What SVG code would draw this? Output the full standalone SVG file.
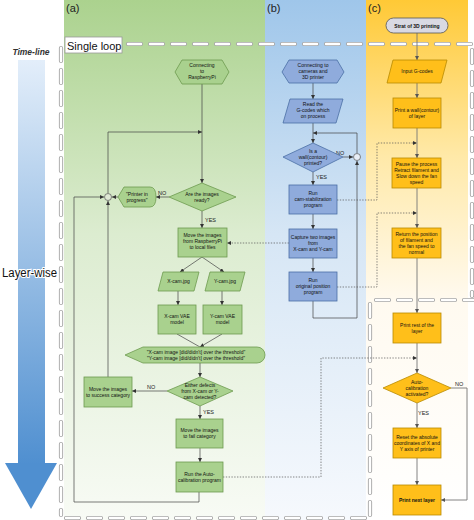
<svg xmlns="http://www.w3.org/2000/svg" width="474" height="520" viewBox="0 0 474 520">
<defs>
<linearGradient id="gA" x1="0" y1="0" x2="0" y2="1"><stop offset="0" stop-color="#abd28e"/><stop offset="0.45" stop-color="#dcecd0"/><stop offset="1" stop-color="#f8fbf5"/></linearGradient>
<linearGradient id="gB" x1="0" y1="0" x2="0" y2="1"><stop offset="0" stop-color="#9fc6ea"/><stop offset="0.45" stop-color="#d6e6f5"/><stop offset="1" stop-color="#f6f9fd"/></linearGradient>
<linearGradient id="gC" x1="0" y1="0" x2="0" y2="1"><stop offset="0" stop-color="#ffc936"/><stop offset="0.3" stop-color="#ffe9a8"/><stop offset="0.58" stop-color="#fffaf0"/><stop offset="1" stop-color="#ffffff"/></linearGradient>
<linearGradient id="gT" x1="0" y1="0" x2="0" y2="1"><stop offset="0" stop-color="#e3eefa"/><stop offset="1" stop-color="#4f8fd0"/></linearGradient>
<marker id="ar" viewBox="0 0 6 6" refX="6" refY="3" markerWidth="4" markerHeight="4" markerUnits="userSpaceOnUse" orient="auto"><path d="M0,0 L6,3 L0,6 Z" fill="#333"/></marker>
<marker id="arg" viewBox="0 0 6 6" refX="6" refY="3" markerWidth="4" markerHeight="4" markerUnits="userSpaceOnUse" orient="auto"><path d="M0,0 L6,3 L0,6 Z" fill="#555"/></marker>
</defs>
<style>
.t{font-family:"Liberation Sans",Arial,sans-serif;font-size:5px;fill:#111;text-anchor:middle}
.g{fill:#a9d18e;stroke:#6d9a4f;stroke-width:0.8}
.b{fill:#8fabdc;stroke:#4a6ea5;stroke-width:0.8}
.o{fill:#ffbf1a;stroke:#b88a00;stroke-width:0.8}
.c{fill:none;stroke:#444;stroke-width:0.7;marker-end:url(#ar)}
.cn{fill:none;stroke:#444;stroke-width:0.7}
.cg{fill:none;stroke:#777;stroke-width:0.9;marker-end:url(#arg)}
.d{fill:none;stroke:#555;stroke-width:0.7;stroke-dasharray:1.4 1.4;marker-end:url(#ar)}
.dashO{fill:none;stroke:#a6a6a6;stroke-width:4.2;stroke-dasharray:13 9;stroke-linecap:round}
.dashI{fill:none;stroke:#fff;stroke-width:2.4;stroke-dasharray:13 9;stroke-linecap:round}
.lbl{font-family:"Liberation Sans",Arial,sans-serif;font-size:5.5px;fill:#222}
.hd{font-family:"Liberation Sans",Arial,sans-serif;font-size:11px;fill:#222}
</style>
<rect x="0" y="0" width="474" height="520" fill="#fff"/>
<rect x="64" y="0" width="201" height="520" fill="url(#gA)"/>
<rect x="265" y="0" width="101" height="520" fill="url(#gB)"/>
<rect x="366" y="0" width="102" height="520" fill="url(#gC)"/>
<text class="hd" x="66" y="12">(a)</text>
<text class="hd" x="267" y="12">(b)</text>
<text class="hd" x="368" y="12">(c)</text>

<g id="timeline">
<rect x="18" y="60" width="27" height="405" fill="url(#gT)"/>
<path d="M5,463 L57,463 L31,509 Z" fill="#4f8fd0"/>
<text x="31" y="55" font-family="Liberation Sans,Arial,sans-serif" font-size="8.5" font-weight="bold" font-style="italic" text-anchor="middle" fill="#333" stroke="#fff" stroke-width="1.6" paint-order="stroke">Time-line</text>
<text x="2" y="277" textLength="55" lengthAdjust="spacingAndGlyphs" font-family="Liberation Sans,Arial,sans-serif" font-size="12" fill="#111" stroke="#fff" stroke-width="2.2" paint-order="stroke">Layer-wise</text>
</g>

<g id="loop">
<path class="dashO" d="M128,44 H474 M61,48 V515 M66,518 H366 M370,304 V520 M376,300 H474 M472,50 V296"/>
<path class="dashI" d="M128,44 H474 M61,48 V515 M66,518 H366 M370,304 V520 M376,300 H474 M472,50 V296"/>
<rect x="65" y="37" width="57" height="16" fill="#fff" stroke="#999" stroke-width="0.8"/>
<text x="67" y="49.5" font-family="Liberation Sans,Arial,sans-serif" font-size="11" fill="#111">Single loop</text>
</g>

<g id="connectors">
<path class="c" d="M202,84 V183"/>
<path class="c" d="M108,193 V132 H202"/>
<path class="c" d="M169,197 H156"/>
<path class="c" d="M118,197 H112"/>
<path class="c" d="M199,492 V502 H74 V197 H104"/>
<path class="c" d="M108,377 V201"/>
<path class="c" d="M202,211 V228"/>
<path class="c" d="M202,257 L180,272"/>
<path class="c" d="M202,257 L224,272"/>
<path class="c" d="M178,291 V305"/>
<path class="c" d="M222,291 V305"/>
<path class="cn" d="M177,334 L200,347"/>
<path class="c" d="M222,334 L200,347"/>
<path class="c" d="M200,363 V377"/>
<path class="c" d="M167,391 H132"/>
<path class="c" d="M200,406 V419"/>
<path class="c" d="M200,448 V462"/>
<path class="d" d="M289,243 H227"/>
<path class="d" d="M223,477 H321 V358 H417"/>
<path class="c" d="M313,83 V99"/>
<path class="c" d="M313,123 V143"/>
<path class="c" d="M343,157 H353"/>
<path class="c" d="M357,153 V133 H313"/>
<path class="c" d="M313,301 V318 H357 V161"/>
<path class="c" d="M313,172 V185"/>
<path class="c" d="M313,214 V229"/>
<path class="c" d="M313,258 V272"/>
<path class="d" d="M337,200 H377 V143 H417"/>
<path class="d" d="M337,287 H377 V213 H417"/>
<path class="cg" d="M417,33 V60"/>
<path class="cg" d="M417,83 V98"/>
<path class="cg" d="M417,128 V158"/>
<path class="cg" d="M417,188 V228"/>
<path class="cg" d="M417,258 V313"/>
<path class="cg" d="M417,343 V373"/>
<path class="cg" d="M417,403 V428"/>
<path class="cg" d="M417,458 V485"/>
<path class="cg" d="M451,388 H467 V500 H441"/>
<text class="lbl" x="158" y="195">NO</text>
<text class="lbl" x="205" y="222">YES</text>
<text class="lbl" x="147" y="389">NO</text>
<text class="lbl" x="203" y="414">YES</text>
<text class="lbl" x="336" y="155">NO</text>
<text class="lbl" x="316" y="179">YES</text>
<text class="lbl" x="455" y="386">NO</text>
<text class="lbl" x="418" y="415">YES</text>
</g>

<g id="a-connect"><path class="g" d="M175,72 L182,60 H222 L229,72 L222,84 H182 Z"/><text class="t" x="202" y="67">Connecting</text><text class="t" x="202" y="73">to</text><text class="t" x="202" y="79">RaspberryPi</text></g>
<g id="a-ready"><path class="g" d="M169,197 L202,183 L236,197 L202,211 Z"/><text class="t" x="202" y="196">Are the images</text><text class="t" x="202" y="202">ready?</text></g>
<g id="a-printer"><path class="g" d="M118,197 L124,187 H150 Q156,187 156,197 Q156,207 150,207 H124 Z"/><text class="t" x="137" y="196">"Printer in</text><text class="t" x="137" y="202">progress"</text></g>
<g id="a-junction"><circle cx="108" cy="197" r="3.5" fill="#dfe8d5" stroke="#555" stroke-width="0.7"/></g>
<g id="a-move"><rect class="g" x="178" y="228" width="49" height="29"/><text class="t" x="202.5" y="237">Move the images</text><text class="t" x="202.5" y="243">from RaspberryPi</text><text class="t" x="202.5" y="249">to local files</text></g>
<g id="a-xjpg"><path class="g" d="M163,272 H199 L194,291 H158 Z"/><text class="t" x="178.5" y="283">X-cam.jpg</text></g>
<g id="a-yjpg"><path class="g" d="M210,272 H245 L240,291 H205 Z"/><text class="t" x="225" y="283">Y-cam.jpg</text></g>
<g id="a-xvae"><rect class="g" x="158" y="305" width="38" height="29"/><text class="t" x="177" y="318">X-cam VAE</text><text class="t" x="177" y="324">model</text></g>
<g id="a-yvae"><rect class="g" x="203" y="305" width="39" height="29"/><text class="t" x="222.5" y="318">Y-cam VAE</text><text class="t" x="222.5" y="324">model</text></g>
<g id="a-threshold"><path class="g" d="M125,355 L143,347 H257 A8,8 0 0 1 257,363 H143 Z"/><text class="t" x="196" y="354">"X-cam image [did/didn't] over the threshold"</text><text class="t" x="196" y="360">"Y-cam image [did/didn't] over the threshold"</text></g>
<g id="a-defects"><path class="g" d="M167,391 L200,377 L233,391 L200,406 Z"/><text class="t" x="200" y="387">Either defects</text><text class="t" x="200" y="393">from X-cam or Y-</text><text class="t" x="200" y="399">cam detected?</text></g>
<g id="a-success"><rect class="g" x="84" y="377" width="48" height="30"/><text class="t" x="108" y="391">Move the images</text><text class="t" x="108" y="397">to success category</text></g>
<g id="a-fail"><rect class="g" x="176" y="419" width="47" height="29"/><text class="t" x="199.5" y="432">Move the images</text><text class="t" x="199.5" y="438">to fail category</text></g>
<g id="a-autocal"><rect class="g" x="176" y="462" width="47" height="30"/><text class="t" x="199.5" y="476">Run the Auto-</text><text class="t" x="199.5" y="482">calibration program</text></g>

<g id="b-connect"><path class="b" d="M282,72 L289,60 H337 L344,72 L337,83 H289 Z"/><text class="t" x="313" y="67">Connecting to</text><text class="t" x="313" y="73">cameras and</text><text class="t" x="313" y="79">3D printer</text></g>
<g id="b-read"><path class="b" d="M290,99 H343 L336,123 H283 Z"/><text class="t" x="313" y="106">Read the</text><text class="t" x="313" y="112">G-codes which</text><text class="t" x="313" y="118">on process</text></g>
<g id="b-wall"><path class="b" d="M283,157 L313,143 L343,157 L313,172 Z"/><text class="t" x="313" y="153">Is a</text><text class="t" x="313" y="159">wall(contour)</text><text class="t" x="313" y="165">printed?</text></g>
<g id="b-junction"><circle cx="357" cy="157" r="3.5" fill="#e8eef7" stroke="#555" stroke-width="0.7"/></g>
<g id="b-stab"><rect class="b" x="289" y="185" width="48" height="29"/><text class="t" x="313" y="195">Run</text><text class="t" x="313" y="201">cam-stabilization</text><text class="t" x="313" y="207">program</text></g>
<g id="b-capture"><rect class="b" x="289" y="229" width="48" height="29"/><text class="t" x="313" y="239">Capture two images</text><text class="t" x="313" y="245">from</text><text class="t" x="313" y="251">X-cam and Y-cam</text></g>
<g id="b-orig"><rect class="b" x="289" y="272" width="48" height="29"/><text class="t" x="313" y="282">Run</text><text class="t" x="313" y="288">original position</text><text class="t" x="313" y="294">program</text></g>

<g id="c-start"><rect x="386" y="18" width="62" height="15" rx="7.5" fill="#d9d9e3" stroke="#555" stroke-width="0.8"/><text class="t" x="417" y="27.5" font-weight="bold" font-size="5.5">Strat of 3D printing</text></g>
<g id="c-input"><path class="o" d="M393,60 H447 L441,83 H387 Z"/><text class="t" x="417" y="73">Input G-codes</text></g>
<g id="c-wall"><rect class="o" x="393" y="98" width="48" height="30"/><text class="t" x="417" y="112">Print a wall(contour)</text><text class="t" x="417" y="118">of layer</text></g>
<g id="c-pause"><rect class="o" x="392" y="158" width="49" height="30"/><text class="t" x="416.5" y="166">Pause the process</text><text class="t" x="416.5" y="172">Retract filament and</text><text class="t" x="416.5" y="178">Slow down the fan</text><text class="t" x="416.5" y="184">speed</text></g>
<g id="c-return"><rect class="o" x="392" y="228" width="49" height="30"/><text class="t" x="416.5" y="236">Return the position</text><text class="t" x="416.5" y="242">of filament and</text><text class="t" x="416.5" y="248">the fan speed to</text><text class="t" x="416.5" y="254">normal</text></g>
<g id="c-rest"><rect class="o" x="393" y="313" width="48" height="30"/><text class="t" x="417" y="327">Print rest of the</text><text class="t" x="417" y="333">layer</text></g>
<g id="c-autocal"><path class="o" d="M383,388 L417,373 L451,388 L417,403 Z"/><text class="t" x="417" y="384">Auto-</text><text class="t" x="417" y="390">calibration</text><text class="t" x="417" y="396">activated?</text></g>
<g id="c-reset"><rect class="o" x="393" y="428" width="48" height="30"/><text class="t" x="417" y="439">Reset the absolute</text><text class="t" x="417" y="445">coordinates of X and</text><text class="t" x="417" y="451">Y axis of printer</text></g>
<g id="c-next"><rect class="o" x="393" y="485" width="48" height="30"/><text class="t" x="417" y="502" font-size="6.5" font-weight="bold">Print next layer</text></g>
</svg>
